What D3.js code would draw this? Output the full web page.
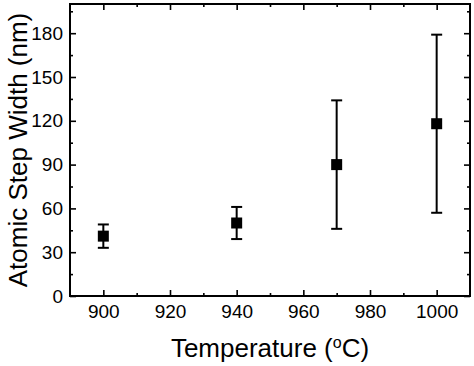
<!DOCTYPE html>
<html>
<head>
<meta charset="utf-8">
<script src="https://cdn.jsdelivr.net/npm/d3@7"></script>
<style>
  body { margin: 0; background: #fff; }
  text { font-family: "Liberation Sans", Arial, sans-serif; fill: #000; }
</style>
</head>
<body>
<svg id="chart" width="474" height="366"></svg>
<script>
// data
const temperatures = [900, 940, 970, 1000];
const stepWidths = [41, 50, 90, 118];
const stepErrors = [8, 11, 44, 61];

const xTicks = [900, 920, 940, 960, 980, 1000];
const yTicks = [0, 30, 60, 90, 120, 150, 180];

const svg = d3.select("#chart");
const margin = {left: 70, right: 4, top: 4, bottom: 70};
const width = 474 - margin.left - margin.right;
const height = 366 - margin.top - margin.bottom;

const x = d3.scaleLinear().domain([890, 1010]).range([0, width]);
const y = d3.scaleLinear().domain([0, 200]).range([height, 0]);

const g = svg.append("g").attr("transform", `translate(${margin.left},${margin.top})`);

// minor ticks, every half major step
const xMinor = d3.range(910, 1010, 20);
const yMinor = d3.range(15, 200, 30);

function styleAxis(sel) {
    sel.select(".domain").remove();
    sel.selectAll("line").attr("stroke", "#000").attr("stroke-width", 1.6);
    sel.selectAll("text").style("font-size", "19px");
}

// bottom
g.append("g").attr("transform", `translate(0,${height})`)
    .call(d3.axisBottom(x).tickValues(xTicks).tickSize(-6).tickPadding(9).tickFormat(d3.format("d")))
    .call(styleAxis);
g.append("g").attr("transform", `translate(0,${height})`)
    .call(d3.axisBottom(x).tickValues(xMinor).tickSize(-3).tickFormat(""))
    .call(styleAxis);
// top mirror
g.append("g")
    .call(d3.axisTop(x).tickValues(xTicks).tickSize(-6).tickFormat(""))
    .call(styleAxis);
g.append("g")
    .call(d3.axisTop(x).tickValues(xMinor).tickSize(-3).tickFormat(""))
    .call(styleAxis);
// left
g.append("g")
    .call(d3.axisLeft(y).tickValues(yTicks).tickSize(-6).tickPadding(7))
    .call(styleAxis);
g.append("g")
    .call(d3.axisLeft(y).tickValues(yMinor).tickSize(-3).tickFormat(""))
    .call(styleAxis);
// right mirror
g.append("g").attr("transform", `translate(${width},0)`)
    .call(d3.axisRight(y).tickValues(yTicks).tickSize(-6).tickFormat(""))
    .call(styleAxis);
g.append("g").attr("transform", `translate(${width},0)`)
    .call(d3.axisRight(y).tickValues(yMinor).tickSize(-3).tickFormat(""))
    .call(styleAxis);

// frame
g.append("rect")
    .attr("width", width).attr("height", height)
    .attr("fill", "none").attr("stroke", "#000").attr("stroke-width", 2);

const points = temperatures.map((t, i) => ({t, v: stepWidths[i], e: stepErrors[i]}));
const capW = 11, sq = 11;

const pts = g.append("g").selectAll("g").data(points).join("g");
pts.append("line")
    .attr("x1", d => x(d.t)).attr("x2", d => x(d.t))
    .attr("y1", d => y(d.v - d.e)).attr("y2", d => y(d.v + d.e))
    .attr("stroke", "#000").attr("stroke-width", 2);
pts.append("line")
    .attr("x1", d => x(d.t) - capW / 2).attr("x2", d => x(d.t) + capW / 2)
    .attr("y1", d => y(d.v + d.e)).attr("y2", d => y(d.v + d.e))
    .attr("stroke", "#000").attr("stroke-width", 2);
pts.append("line")
    .attr("x1", d => x(d.t) - capW / 2).attr("x2", d => x(d.t) + capW / 2)
    .attr("y1", d => y(d.v - d.e)).attr("y2", d => y(d.v - d.e))
    .attr("stroke", "#000").attr("stroke-width", 2);
pts.append("rect")
    .attr("x", d => x(d.t) - sq / 2).attr("y", d => y(d.v) - sq / 2)
    .attr("width", sq).attr("height", sq).attr("fill", "#000");

// axis titles
const xt = svg.append("text")
    .attr("x", margin.left + width / 2).attr("y", 357)
    .attr("text-anchor", "middle").style("font-size", "26px");
xt.append("tspan").text("Temperature (");
xt.append("tspan").text("o").attr("dy", -9).style("font-size", "16px");
xt.append("tspan").text("C)").attr("dy", 9);

svg.append("text")
    .attr("transform", `translate(27,${margin.top + height / 2}) rotate(-90)`)
    .attr("text-anchor", "middle").style("font-size", "26px")
    .text("Atomic Step Width (nm)");
</script>
</body>
</html>
